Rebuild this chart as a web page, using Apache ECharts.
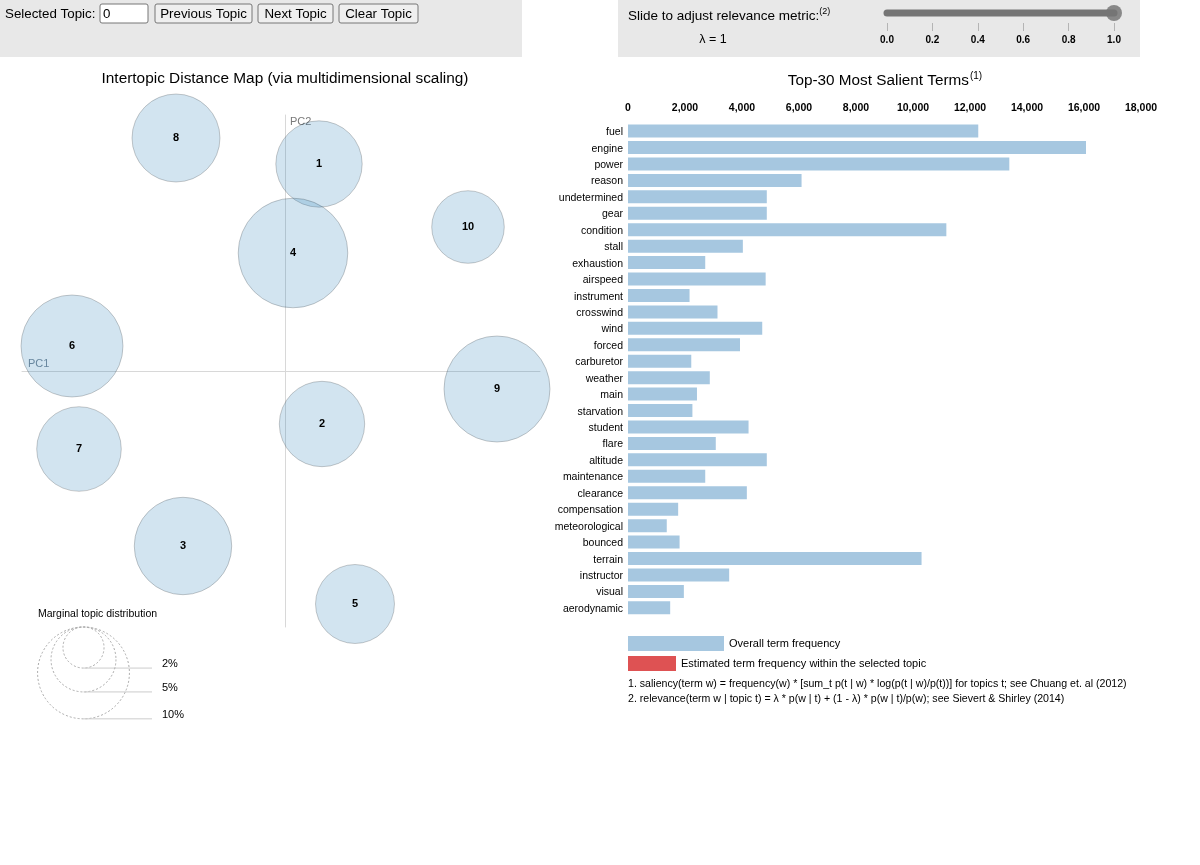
<!DOCTYPE html>
<html>
<head>
<meta charset="utf-8">
<script src="https://cdn.jsdelivr.net/npm/echarts@6/dist/echarts.min.js"></script>
<style>
  html, body { margin: 0; padding: 0; background: #fff; }
  #chart { width: 1200px; height: 865px; }
</style>
</head>
<body>
<div id="chart"></div>
<script>
// topics: ids, PC coordinates and marginal distribution (%)
var topicIds = [1, 2, 3, 4, 5, 6, 7, 8, 9, 10];
var pc1 = [0.034, 0.037, -0.102, 0.008, 0.070, -0.213, -0.206, -0.109, 0.212, 0.183];
var pc2 = [0.207, -0.053, -0.175, 0.118, -0.233, 0.025, -0.078, 0.233, -0.018, 0.144];
var topicPct = [8.85, 8.65, 11.26, 14.25, 7.40, 12.34, 8.49, 9.18, 13.33, 6.25];
var legendPcts = [2, 5, 10];

// top-30 salient terms
var terms = ['fuel', 'engine', 'power', 'reason', 'undetermined', 'gear', 'condition', 'stall',
    'exhaustion', 'airspeed', 'instrument', 'crosswind', 'wind', 'forced', 'carburetor', 'weather',
    'main', 'starvation', 'student', 'flare', 'altitude', 'maintenance', 'clearance', 'compensation',
    'meteorological', 'bounced', 'terrain', 'instructor', 'visual', 'aerodynamic'];
var termFreq = [12290, 16070, 13380, 6090, 4870, 4870, 11170, 4030, 2710, 4830, 2160, 3140, 4710,
    3930, 2220, 2870, 2420, 2260, 4230, 3080, 4870, 2710, 4170, 1760, 1360, 1810, 10300, 3550, 1960, 1480];

var lambdaVal = 1;

var FONT = '"Liberation Sans", Arial, sans-serif';
var rScale = 14.52; // px radius per sqrt(%)
function radius(p) { return rScale * Math.sqrt(p); }

var topicData = topicIds.map(function (id, i) {
    return [pc1[i], pc2[i], topicPct[i], id];
});

var chart = echarts.init(document.getElementById('chart'));

// marginal distribution legend (circles share their top point)
var ringTop = 627, ringX = 83.5;
var ringGraphics = [];
legendPcts.forEach(function (p) {
    var r = radius(p);
    ringGraphics.push({
        type: 'circle', shape: {cx: ringX, cy: ringTop + r, r: r},
        style: {fill: null, stroke: '#a8a8a8', lineWidth: 1, lineDash: [2, 2]}
    });
    ringGraphics.push({
        type: 'line', shape: {x1: ringX, y1: ringTop + 2 * r, x2: 152, y2: ringTop + 2 * r},
        style: {stroke: '#cccccc', lineWidth: 1}
    });
    ringGraphics.push({
        type: 'text', x: 162, y: ringTop + 2 * r - 4,
        style: {text: p + '%', font: '11px ' + FONT, fill: '#000', textVerticalAlign: 'middle'}
    });
});

function button(x, w, label) {
    return {
        type: 'group', children: [
            {type: 'rect', shape: {x: x, y: 4, width: w, height: 19, r: 2},
                style: {fill: '#efefef', stroke: '#767676', lineWidth: 1}},
            {type: 'text', x: x + w / 2, y: 14,
                style: {text: label, font: '13.33px ' + FONT, fill: '#000', textAlign: 'center', textVerticalAlign: 'middle'}}
        ]
    };
}

var option = {
    animation: false,
    textStyle: {fontFamily: FONT},
    title: [
        {
            text: 'Intertopic Distance Map (via multidimensional scaling)',
            left: 280, top: 66, textAlign: 'center',
            textStyle: {fontSize: 15.4, fontWeight: 'normal', color: '#000'}
        },
        {
            text: '{t|Top-30 Most Salient Terms}{s|(1)}',
            left: 880, top: 66, textAlign: 'center',
            textStyle: {
                fontWeight: 'normal',
                rich: {
                    t: {fontSize: 15.3, fontWeight: 'normal', color: '#000', fontFamily: FONT},
                    s: {fontSize: 10, fontWeight: 'normal', color: '#000', fontFamily: FONT, padding: [0, 0, 9, 1]}
                }
            }
        }
    ],
    legend: [
        {
            data: ['Overall term frequency'], left: 628, top: 636, padding: 0,
            itemWidth: 96, itemHeight: 15, icon: 'rect', selectedMode: false,
            textStyle: {fontSize: 11, color: '#000'}
        },
        {
            data: ['Estimated term frequency within the selected topic'], left: 628, top: 656, padding: 0,
            itemWidth: 48, itemHeight: 15, icon: 'rect', selectedMode: false,
            textStyle: {fontSize: 11, color: '#000'}
        }
    ],
    grid: [
        {left: 22, top: 115, width: 518, height: 512},
        {left: 628, top: 124, right: 59, height: 493.2},
        {left: 887, top: 3, width: 227, height: 20}
    ],
    xAxis: [
        {
            gridIndex: 0, type: 'value', min: -0.263, max: 0.255,
            axisLine: {onZero: true, lineStyle: {color: '#d8d8d8'}},
            axisTick: {show: false}, axisLabel: {show: false}, splitLine: {show: false},
            name: 'PC1', nameLocation: 'start', nameGap: -6,
            nameTextStyle: {color: '#7a8a99', fontSize: 11, align: 'left', verticalAlign: 'bottom', padding: [0, 0, 2, 0]}
        },
        {
            gridIndex: 1, type: 'value', min: 0, max: 18000, interval: 2000, position: 'top',
            axisLine: {show: false}, axisTick: {show: false}, splitLine: {show: false},
            axisLabel: {
                margin: 10, fontSize: 10.5, fontWeight: 'bold', color: '#000',
                formatter: function (v) { return v.toLocaleString('en-US'); }
            }
        },
        {
            gridIndex: 2, type: 'value', min: 0, max: 1, interval: 0.2, position: 'bottom',
            axisLine: {show: false, onZero: false}, splitLine: {show: false},
            axisTick: {show: true, length: 8, lineStyle: {color: '#b4b4b4'}},
            axisLabel: {
                margin: 12, fontSize: 10, fontWeight: 'bold', color: '#000',
                formatter: function (v) { return v.toFixed(1); }
            }
        }
    ],
    yAxis: [
        {
            gridIndex: 0, type: 'value', min: -0.256, max: 0.256,
            axisLine: {show: true, onZero: true, lineStyle: {color: '#d8d8d8'}},
            axisTick: {show: false}, axisLabel: {show: false}, splitLine: {show: false},
            name: 'PC2', nameLocation: 'end', nameGap: -12,
            nameTextStyle: {color: '#7a7a7a', fontSize: 11, align: 'left', verticalAlign: 'bottom', padding: [0, 0, 0, 5]}
        },
        {
            gridIndex: 1, type: 'category', data: terms, inverse: true,
            axisLine: {show: false}, axisTick: {show: false}, splitLine: {show: false},
            axisLabel: {margin: 5, fontSize: 10.5, color: '#000'}
        },
        {
            gridIndex: 2, type: 'value', min: -1, max: 1, show: false
        }
    ],
    series: [
        {
            type: 'scatter', xAxisIndex: 0, yAxisIndex: 0, data: topicData, clip: false,
            symbolSize: function (v) { return 2 * radius(v[2]); },
            itemStyle: {color: 'rgba(31,119,180,0.2)', borderColor: 'rgba(0,0,0,0.2)', borderWidth: 1, opacity: 1},
            label: {
                show: true, position: 'inside', color: '#000', fontSize: 11, fontWeight: 'bold',
                formatter: function (p) { return p.value[3]; }
            },
            emphasis: {disabled: true}
        },
        {
            name: 'Overall term frequency', type: 'bar', xAxisIndex: 1, yAxisIndex: 1,
            data: termFreq, barWidth: 13,
            itemStyle: {color: '#a6c7e0'},
            emphasis: {disabled: true}
        },
        {
            name: 'Estimated term frequency within the selected topic', type: 'bar',
            xAxisIndex: 1, yAxisIndex: 1, data: [], itemStyle: {color: '#de5253'}
        },
        {
            type: 'line', xAxisIndex: 2, yAxisIndex: 2, data: [[0, 0], [1, 0]],
            symbol: 'none', lineStyle: {color: '#757575', width: 7, cap: 'round'}, silent: true
        },
        {
            type: 'scatter', xAxisIndex: 2, yAxisIndex: 2, data: [[lambdaVal, 0]],
            symbolSize: 16, itemStyle: {color: '#6f6f6f'}, silent: true
        }
    ],
    graphic: [
        {type: 'rect', z: -10, shape: {x: 0, y: 0, width: 522, height: 57}, style: {fill: '#e8e8e8'}},
        {type: 'rect', z: -10, shape: {x: 618, y: 0, width: 522, height: 57}, style: {fill: '#e8e8e8'}},
        {type: 'text', x: 5, y: 14,
            style: {text: 'Selected Topic:', font: '13.33px ' + FONT, fill: '#000', textVerticalAlign: 'middle'}},
        {type: 'rect', shape: {x: 100, y: 4, width: 48, height: 19, r: 2},
            style: {fill: '#fff', stroke: '#767676', lineWidth: 1}},
        {type: 'text', x: 103, y: 14,
            style: {text: '0', font: '13.33px ' + FONT, fill: '#000', textVerticalAlign: 'middle'}},
        button(155, 97, 'Previous Topic'),
        button(258, 75, 'Next Topic'),
        button(339, 79, 'Clear Topic'),
        {type: 'text', x: 628, y: 16,
            style: {
                text: '{a|Slide to adjust relevance metric:}{s|(2)}', textVerticalAlign: 'middle',
                rich: {
                    a: {font: '13.5px ' + FONT, fill: '#000'},
                    s: {font: '9px ' + FONT, fill: '#000', padding: [0, 0, 8, 0]}
                }
            }},
        {type: 'text', x: 713, y: 40,
            style: {text: 'λ = 1', font: '12.5px ' + FONT, fill: '#000', textAlign: 'center', textVerticalAlign: 'middle'}},
        {type: 'text', x: 38, y: 614,
            style: {text: 'Marginal topic distribution', font: '10.5px ' + FONT, fill: '#000', textVerticalAlign: 'middle'}},
        {type: 'text', x: 628, y: 684,
            style: {text: '1. saliency(term w) = frequency(w) * [sum_t p(t | w) * log(p(t | w)/p(t))] for topics t; see Chuang et. al (2012)',
                font: '10.6px ' + FONT, fill: '#000', textVerticalAlign: 'middle'}},
        {type: 'text', x: 628, y: 699,
            style: {text: '2. relevance(term w | topic t) = λ * p(w | t) + (1 - λ) * p(w | t)/p(w); see Sievert & Shirley (2014)',
                font: '10.6px ' + FONT, fill: '#000', textVerticalAlign: 'middle'}}
    ].concat(ringGraphics)
};

chart.setOption(option);
</script>
</body>
</html>
